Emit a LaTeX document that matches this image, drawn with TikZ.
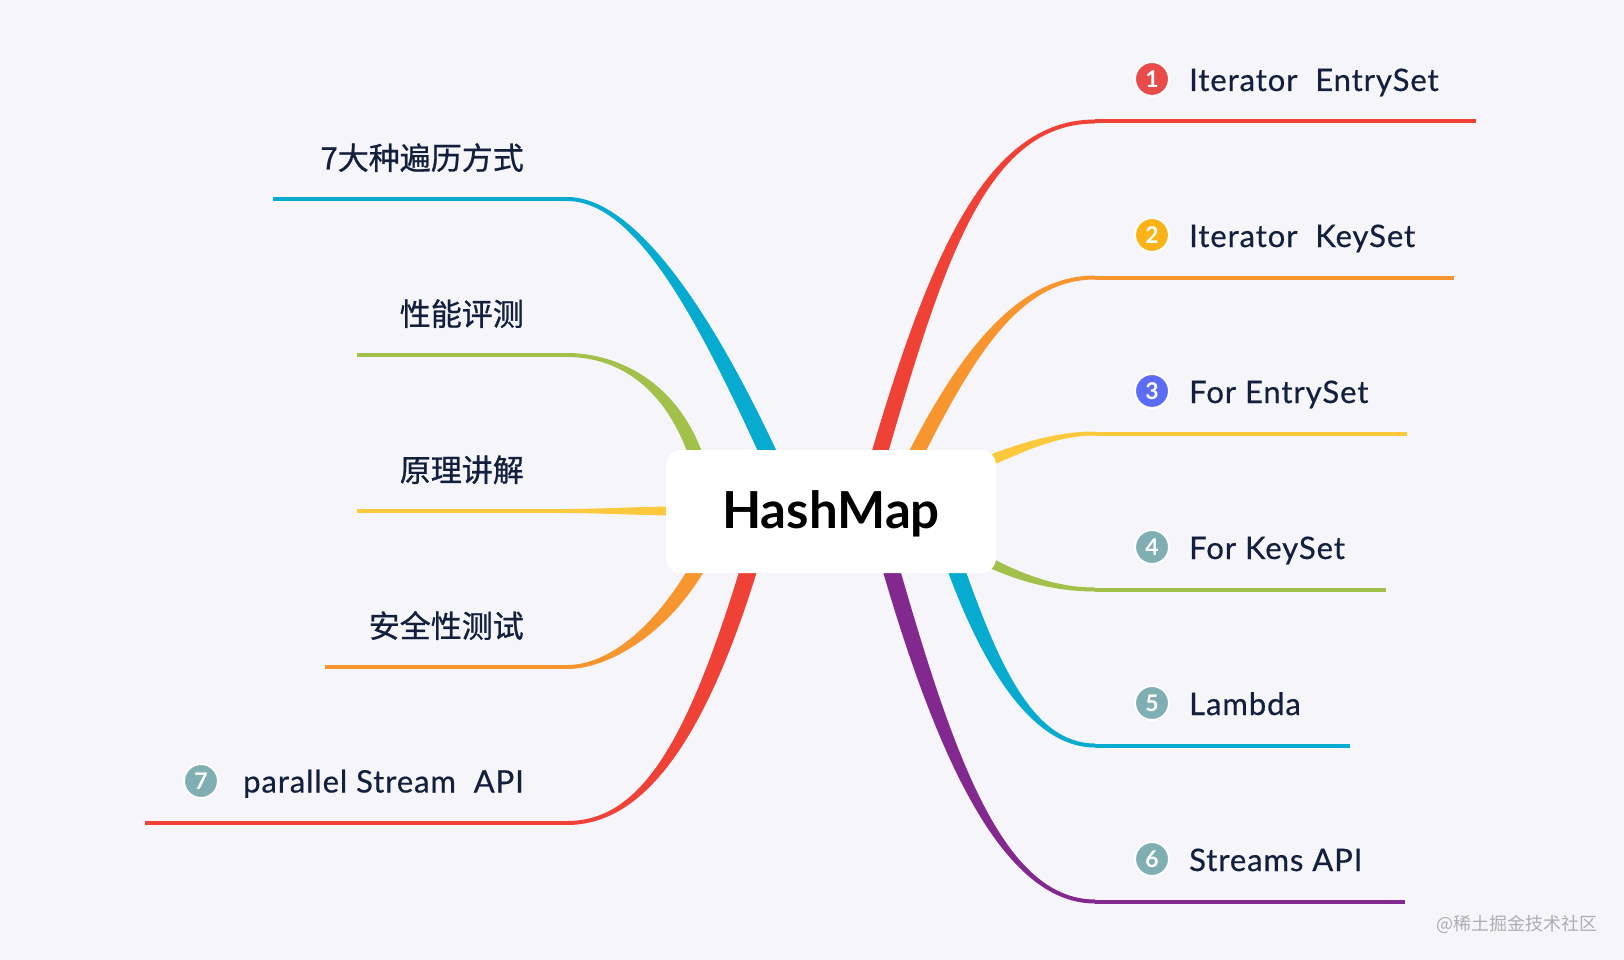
\documentclass[tikz,border=0pt]{standalone}
\usepackage{fontspec}
\setmainfont{Lato}
\newfontfamily\itemfont{Lato}[LetterSpace=3, FakeBold=0.5]
\newfontfamily\cjk{Noto Sans CJK SC}[FakeBold=0.8]
\newfontfamily\wmfont{Noto Sans CJK SC}
\usetikzlibrary{calc}
\definecolor{bg}{HTML}{F5F5FA}
\definecolor{cred}{HTML}{EF4136}
\definecolor{corange}{HTML}{F7962E}
\definecolor{cyellow}{HTML}{FDC93C}
\definecolor{cgreen}{HTML}{A2C14A}
\definecolor{ccyan}{HTML}{06ABCF}
\definecolor{cpurple}{HTML}{82288F}
\definecolor{bred}{HTML}{E94B4B}
\definecolor{byellow}{HTML}{FBB315}
\definecolor{bblue}{HTML}{5C6CF6}
\definecolor{bteal}{HTML}{7FAEB3}
\definecolor{navy}{HTML}{12203D}
\definecolor{wm}{HTML}{ADADB3}
\newcommand{\tapercurve}[7]{%
  \fill[#1] ($(#2)!#6!90:(#3)$) .. controls ($(#3)!#6!-90:(#2)$) and ($(#4)!#7!90:(#5)$) .. ($(#5)!#7!-90:(#4)$)
   -- ($(#5)!#7!90:(#4)$) .. controls ($(#4)!#7!-90:(#5)$) and ($(#3)!#6!90:(#2)$) .. ($(#2)!#6!-90:(#3)$) -- cycle;}
\tikzset{
  branchline/.style={line width=4pt},
  item/.style={inner sep=0pt, text=navy, font=\itemfont\fontsize{31}{31}\selectfont},
  cjkitem/.style={inner sep=0pt, text=navy, font=\cjk\fontsize{31}{31}\selectfont},
  badge/.style={circle, draw=white, line width=2pt, minimum size=34pt, inner sep=0pt, text=white, font=\bfseries\fontsize{23}{23}\selectfont},
  rootbox/.style={fill=white, rounded corners=15pt, minimum width=330pt, minimum height=123pt, inner sep=0pt},
  roottext/.style={inner sep=0pt, text=black, font=\bfseries\fontsize{51}{51}\selectfont}
}
\begin{document}
\begin{tikzpicture}[x=1pt,y=-1pt]
\fill[bg] (0,0) rectangle (1624,960);
\useasboundingbox (0,0) rectangle (1624,960);

% right branch coordinates
\coordinate (r1s) at (875,469);  \coordinate (r1e) at (1095,121.5); \coordinate (r1f) at (1476,121.5);
\coordinate (r2s) at (909,468);  \coordinate (r2e) at (1095,277.5); \coordinate (r2f) at (1454,277.5);
\coordinate (r3s) at (975,466);  \coordinate (r3e) at (1095,433.5); \coordinate (r3f) at (1407,433.5);
\coordinate (r4s) at (975,555);  \coordinate (r4e) at (1095,589.5); \coordinate (r4f) at (1386,589.5);
\coordinate (r5s) at (951,555);  \coordinate (r5e) at (1095,745.5); \coordinate (r5f) at (1350,745.5);
\coordinate (r6s) at (887,555);  \coordinate (r6e) at (1095,901.5); \coordinate (r6f) at (1405,901.5);
% left branch coordinates
\coordinate (l1s) at (775,468);  \coordinate (l1e) at (567,199); \coordinate (l1f) at (273,199);
\coordinate (l2s) at (700,468);  \coordinate (l2e) at (567,355); \coordinate (l2f) at (357,355);
\coordinate (l3s) at (680,511);  \coordinate (l3e) at (567,511); \coordinate (l3f) at (357,511);
\coordinate (l4s) at (703,558);  \coordinate (l4e) at (567,667); \coordinate (l4f) at (325,667);
\coordinate (l5s) at (753,555);  \coordinate (l5e) at (567,823); \coordinate (l5f) at (145,823);

% curves
\tapercurve{cred}{r1s}{935,262}{985,121.5}{r1e}{8pt}{2pt}
\tapercurve{corange}{r2s}{967,351}{1020,277.5}{r2e}{7.5pt}{2pt}
\tapercurve{cyellow}{r3s}{1013,452}{1050,433.5}{r3e}{5.5pt}{2pt}
\tapercurve{cgreen}{r4s}{1010,574}{1050,589.5}{r4e}{5pt}{2pt}
\tapercurve{ccyan}{r5s}{987.5,659}{1030,745.5}{r5e}{8.5pt}{2pt}
\tapercurve{cpurple}{r6s}{942,747}{1000,901.5}{r6e}{8.5pt}{2pt}
\tapercurve{ccyan}{l1s}{712.6,331.6}{640,199}{l1e}{8.5pt}{2pt}
\tapercurve{cgreen}{l2s}{674.4,381.7}{615,355}{l2e}{7pt}{2pt}
\tapercurve{cyellow}{l3s}{640,511}{600,511}{l3e}{4.5pt}{2pt}
\tapercurve{corange}{l4s}{665,628}{610,667}{l4e}{7.5pt}{2pt}
\tapercurve{cred}{l5s}{696,747}{640,823}{l5e}{8.5pt}{2pt}

% horizontal lines
\draw[branchline, cred] (r1e) -- (r1f);
\draw[branchline, corange] (r2e) -- (r2f);
\draw[branchline, cyellow] (r3e) -- (r3f);
\draw[branchline, cgreen] (r4e) -- (r4f);
\draw[branchline, ccyan] (r5e) -- (r5f);
\draw[branchline, cpurple] (r6e) -- (r6f);
\draw[branchline, ccyan] (l1e) -- (l1f);
\draw[branchline, cgreen] (l2e) -- (l2f);
\draw[branchline, cyellow] (l3e) -- (l3f);
\draw[branchline, corange] (l4e) -- (l4f);
\draw[branchline, cred] (l5e) -- (l5f);

% root
\node[rootbox] (root) at (831,511.5) {};
\node[roottext, anchor=base] (rootlabel) at (831,528) {HashMap};

% right items
\node[badge, fill=bred] (b1) at (1152,79) {1};
\node[item, anchor=base west] (t1) at (1189,91) {Iterator\ \ EntrySet};
\node[badge, fill=byellow] (b2) at (1152,235) {2};
\node[item, anchor=base west] (t2) at (1189,247) {Iterator\ \ KeySet};
\node[badge, fill=bblue] (b3) at (1152,391) {3};
\node[item, anchor=base west] (t3) at (1189,403) {For EntrySet};
\node[badge, fill=bteal] (b4) at (1152,547) {4};
\node[item, anchor=base west] (t4) at (1189,559) {For KeySet};
\node[badge, fill=bteal] (b5) at (1152,703) {5};
\node[item, anchor=base west] (t5) at (1189,715) {Lambda};
\node[badge, fill=bteal] (b6) at (1152,859) {6};
\node[item, anchor=base west] (t6) at (1189,871) {Streams API};

% left items
\node[cjkitem, anchor=base east] (u1) at (524,169.5) {7大种遍历方式};
\node[cjkitem, anchor=base east] (u2) at (524,325.5) {性能评测};
\node[cjkitem, anchor=base east] (u3) at (524,481.5) {原理讲解};
\node[cjkitem, anchor=base east] (u4) at (524,637.5) {安全性测试};
\node[badge, fill=bteal] (b7) at (201,781) {7};
\node[item, anchor=base east] (u5) at (524,792.5) {parallel Stream\ \ API};

% watermark
\node[anchor=east, inner sep=0pt, text=wm, font=\wmfont\fontsize{18}{18}\selectfont] (wmk) at (1598,924) {@稀土掘金技术社区};
\end{tikzpicture}
\end{document}
